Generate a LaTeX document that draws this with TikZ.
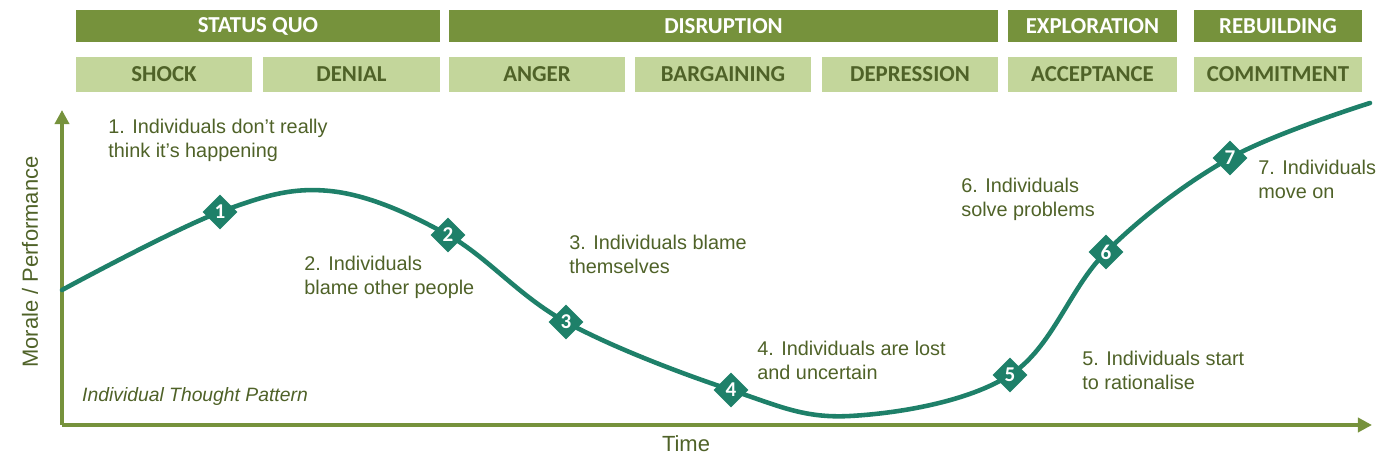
\documentclass[tikz,border=0pt]{standalone}
\usepackage{fontspec}
\setmainfont{Liberation Sans}
\newfontfamily\hdfont{Carlito}
\usetikzlibrary{shapes.geometric,arrows.meta,positioning}
\definecolor{phasegreen}{HTML}{76923C}
\definecolor{stagegreen}{HTML}{C3D69B}
\definecolor{textgreen}{HTML}{4F6228}
\definecolor{curveteal}{HTML}{1E8069}
\tikzset{
    marker/.style={diamond, fill=curveteal, text=white, inner sep=1.2pt, minimum size=20pt,
        font=\hdfont\bfseries\fontsize{12}{12}\selectfont},
    thought/.style={text=textgreen, align=left, anchor=north west, inner sep=0pt,
        font=\fontsize{11.3}{13.6}\selectfont},
    axis/.style={-{Triangle[length=8pt,width=8pt]}, phasegreen, line width=2.2pt}
}
\begin{document}
\begin{tikzpicture}[x=0.02cm, y=-0.02cm]
  \useasboundingbox (0,0) rectangle (1400,470);

  % Phase bars
  \foreach \xa/\xb/\txt in {76/440/STATUS QUO, 449/998/DISRUPTION, 1008/1177/EXPLORATION, 1194/1362/REBUILDING}
    \fill[phasegreen] (\xa,10) rectangle (\xb,42) node[midway, text=white, font=\hdfont\bfseries\fontsize{13}{14}\selectfont] {\txt};
  % Stage bars
  \foreach \xa/\xb/\txt in {76/252/SHOCK, 263/440/DENIAL, 449/625/ANGER, 635/811/BARGAINING,
      822/998/DEPRESSION, 1008/1177/ACCEPTANCE, 1194/1362/COMMITMENT}
    \fill[stagegreen] (\xa,57) rectangle (\xb,92) node[midway, text=textgreen, font=\hdfont\bfseries\fontsize{13}{14}\selectfont] {\txt};

  % Axes
  \coordinate (origin) at (62,425);
  \coordinate (ytop) at (62,110);
  \coordinate (xend) at (1372,425);
  \draw[axis] (origin) -- (ytop);
  \draw[axis] (origin) -- (xend);
  \node[rotate=90, text=textgreen, font=\fontsize{12.5}{14}\selectfont] (ylabel) at (30,262) {Morale / Performance};
  \node[text=textgreen, font=\fontsize{12.5}{14}\selectfont] (xlabel) at (686,444) {Time};
  \node[text=textgreen, font=\itshape\fontsize{11}{13}\selectfont, anchor=west] (pattern) at (76,396) {Individual Thought Pattern};

  % Curve
  \draw[curveteal, line width=2.6pt, line cap=round] plot[smooth, tension=0.6] coordinates {
    (62,290) (220,212) (330,191) (448,235) (566,322) (731,390) (850,416) (1010,375) (1106,252) (1230,158) (1370,103)};

  % Markers
  \node[marker] (m1) at (220,212) {1};
  \node[marker] (m2) at (448,235) {2};
  \node[marker] (m3) at (566,322) {3};
  \node[marker] (m4) at (731,390) {4};
  \node[marker] (m5) at (1010,375) {5};
  \node[marker] (m6) at (1106,252) {6};
  \node[marker] (m7) at (1230,158) {7};

  % Thought labels
  \node[thought] (t1) at (108,119) {1. Individuals don't really\\think it's happening};
  \node[thought] (t2) at (304,256) {2. Individuals\\blame other people};
  \node[thought] (t3) at (569,235) {3. Individuals blame\\themselves};
  \node[thought] (t4) at (757,341) {4. Individuals are lost\\and uncertain};
  \node[thought] (t5) at (1082,351) {5. Individuals start\\to rationalise};
  \node[thought] (t6) at (961,178) {6. Individuals\\solve problems};
  \node[thought] (t7) at (1258,160) {7. Individuals\\move on};
\end{tikzpicture}
\end{document}
